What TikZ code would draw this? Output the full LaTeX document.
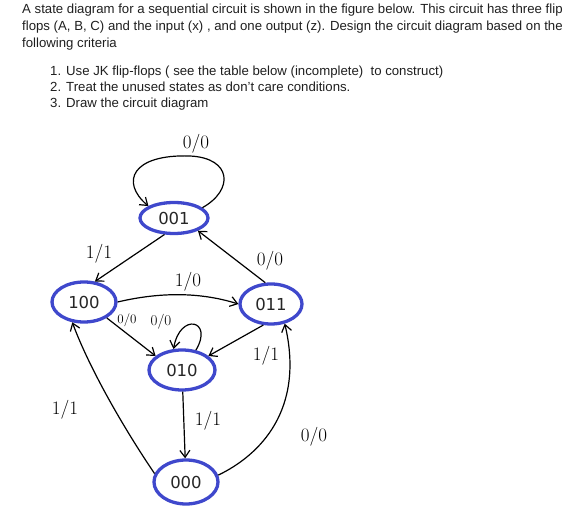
\documentclass[tikz,border=0pt]{standalone}
\usepackage{fontspec}
\setmainfont{Liberation Sans}
\newfontfamily\statefont{DejaVu Sans}
\newfontfamily\handfont{Latin Modern Roman}
\usetikzlibrary{shapes.geometric,arrows.meta}
\definecolor{paintblue}{HTML}{3F48CC}
\begin{document}
\begin{tikzpicture}[x=1pt,y=-1pt,
  txt/.style={anchor=base west,inner sep=0pt,font=\fontsize{13.2}{15}\selectfont,text=black!88},
  st/.style={ellipse,draw=paintblue,line width=3.3pt,inner sep=0pt,font=\statefont\fontsize{16.5}{18}\selectfont,text=black!85},
  arr/.style={line width=1.2pt,-{Straight Barb[length=7pt,width=10pt,line width=1.2pt]}},
  lbl/.style={inner sep=0pt,font=\handfont\fontsize{19}{21}\selectfont}]
\useasboundingbox (0,0) rectangle (574,521);
% text
\node[txt] (t1) at (22,14) {A state diagram for a sequential circuit is shown in the figure below. This circuit has three flip};
\node[txt] (t2) at (22,31) {flops (A, B, C) and the input (x) , and one output (z). Design the circuit diagram based on the};
\node[txt] (t3) at (22,48) {following criteria};
\node[txt] (n1) at (50,76) {1.};
\node[txt] (l1) at (66,76) {Use JK flip-flops ( see the table below (incomplete) \ to construct)};
\node[txt] (n2) at (50,92) {2.};
\node[txt] (l2) at (66,92) {Treat the unused states as don't care conditions.};
\node[txt] (n3) at (50,108) {3.};
\node[txt] (l3) at (66,108) {Draw the circuit diagram};
% states
\node[st,minimum width=68pt,minimum height=31pt] (s001) at (174,218) {001};
\node[st,minimum width=64pt,minimum height=40pt] (s100) at (84,302) {100};
\node[st,minimum width=62pt,minimum height=40pt] (s011) at (271,304) {011};
\node[st,minimum width=66pt,minimum height=40pt] (s010) at (182,370) {010};
\node[st,minimum width=64pt,minimum height=44pt] (s000) at (186,482) {000};
% edges
\draw[arr] (s001.20) .. controls (234,190) and (232,158) .. (190,156) .. controls (132,154) and (120,182) .. (s001.155);
\draw[arr] (s001.240) -- (s100.62);
\draw[arr] (s100.east) .. controls (160,292) and (200,292) .. (s011.west);
\draw[arr] (s011.105) -- (s001.-28);
\draw[arr] (s100.-35) -- (s010.152);
\draw[arr] (s010.55) .. controls (214,320) and (180,312) .. (s010.112);
\draw[arr] (s011.-110) -- (s010.28);
\draw[arr] (s010.-88) -- (s000.92);
\draw[arr] (s000.165) .. controls (125,430) and (90,370) .. (s100.-120);
\draw[arr] (s000.12) .. controls (260,455) and (305,410) .. (s011.-55);
% labels
\node[lbl] (a1) at (196,144) {0/0};
\node[lbl] (a2) at (99,254) {1/1};
\node[lbl] (a3) at (188,282) {1/0};
\node[lbl] (a4) at (270,261) {0/0};
\node[lbl,font=\handfont\fontsize{13}{15}\selectfont] (a5) at (127,320) {0/0};
\node[lbl,font=\handfont\fontsize{15}{17}\selectfont] (a6) at (161,322) {0/0};
\node[lbl] (a7) at (266,356) {1/1};
\node[lbl] (a8) at (208,421) {1/1};
\node[lbl] (a9) at (65,410) {1/1};
\node[lbl] (a10) at (314,437) {0/0};
\end{tikzpicture}
\end{document}
